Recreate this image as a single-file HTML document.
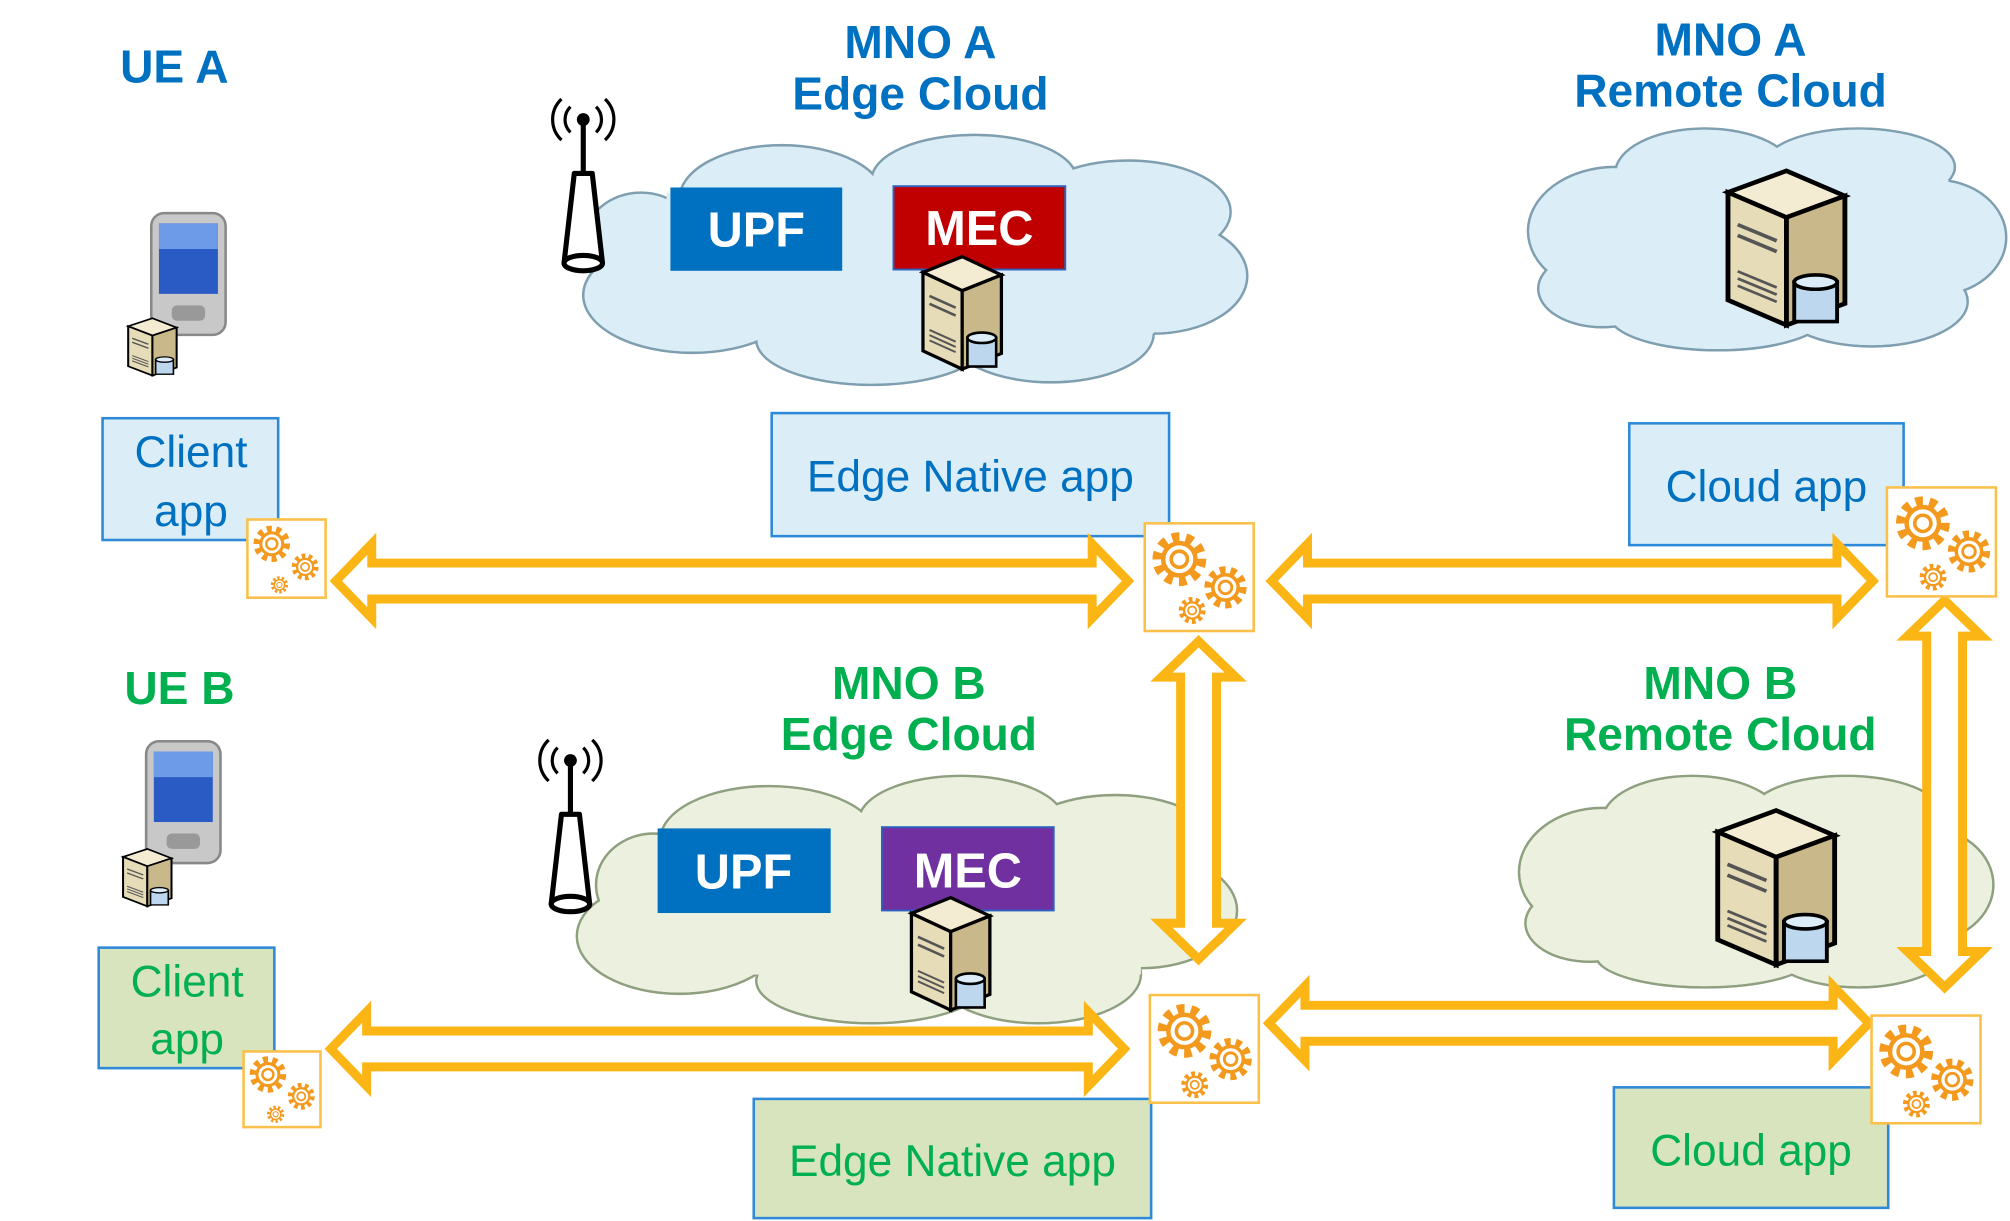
<!DOCTYPE html>
<html><head><meta charset="utf-8"><style>
html,body{margin:0;padding:0;background:#fff;}
svg{display:block;}
text{font-family:"Liberation Sans","DejaVu Sans",sans-serif;}
</style></head><body>
<svg width="2010" height="1221" viewBox="0 0 1568 952" xmlns="http://www.w3.org/2000/svg">
<defs>
<g id="gear">
  <circle cx="0" cy="0" r="12" fill="none" stroke="#f39a1e" stroke-width="6" stroke-dasharray="4 3.5"/>
  <circle cx="0" cy="0" r="9" fill="#fff" stroke="#f39a1e" stroke-width="2.5"/>
  <circle cx="0" cy="0" r="4.5" fill="#fff" stroke="#f39a1e" stroke-width="2"/>
</g>
<g id="server">
  <polygon points="0,12 30,0 60,14 30,26" fill="#f4ecd2" stroke="#000" stroke-width="2.5"/>
  <polygon points="0,12 30,26 30,86 0,72" fill="#e6dcb8" stroke="#000" stroke-width="2.5"/>
  <polygon points="30,26 60,14 60,74 30,86" fill="#c9b98a" stroke="#000" stroke-width="2.5"/>
  <line x1="5" y1="30" x2="25" y2="39" stroke="#555" stroke-width="2"/>
  <line x1="5" y1="36" x2="25" y2="45" stroke="#555" stroke-width="2"/>
  <line x1="5" y1="56" x2="25" y2="65" stroke="#555" stroke-width="1.5"/>
  <line x1="5" y1="60" x2="25" y2="69" stroke="#555" stroke-width="1.5"/>
  <line x1="5" y1="64" x2="25" y2="73" stroke="#555" stroke-width="1.5"/>
  <rect x="34" y="62" width="22" height="22" fill="#bcd7ee" stroke="#000" stroke-width="2"/>
  <ellipse cx="45" cy="62" rx="11" ry="4" fill="#dcecf8" stroke="#000" stroke-width="2"/>
</g>
<g id="antenna">
  <polygon points="18,60 32,60 40,130 10,130" fill="#fff" stroke="#000" stroke-width="4" stroke-linejoin="round"/>
  <ellipse cx="25" cy="130" rx="15" ry="6" fill="#fff" stroke="#000" stroke-width="4"/>
  <line x1="25" y1="20" x2="25" y2="60" stroke="#000" stroke-width="4"/>
  <circle cx="25" cy="18" r="5" fill="#000"/>
  <path d="M15,8 A14,14 0 0 0 15,28 M35,8 A14,14 0 0 1 35,28 M8,2 A22,22 0 0 0 8,34 M42,2 A22,22 0 0 1 42,34" fill="none" stroke="#000" stroke-width="2.5"/>
</g>
<g id="phone">
  <rect x="20" y="0" width="58" height="95" rx="10" fill="#c8c8c8" stroke="#888" stroke-width="2"/>
  <rect x="26" y="8" width="46" height="55" fill="#2a5bc4"/>
  <rect x="26" y="8" width="46" height="20" fill="#6e9be8"/>
  <rect x="36" y="72" width="26" height="12" rx="4" fill="#999"/>
</g>
</defs>

<g font-weight="bold" font-size="36" text-anchor="middle">
<text x="136" y="64" fill="#0070c0">UE A</text>
<text x="718" y="45" fill="#0070c0">MNO A</text>
<text x="718" y="85" fill="#0070c0">Edge Cloud</text>
<text x="1350" y="43" fill="#0070c0">MNO A</text>
<text x="1350" y="83" fill="#0070c0">Remote Cloud</text>
<text x="140" y="549" fill="#00b050">UE B</text>
<text x="709" y="545" fill="#00b050">MNO B</text>
<text x="709" y="585" fill="#00b050">Edge Cloud</text>
<text x="1342" y="545" fill="#00b050">MNO B</text>
<text x="1342" y="585" fill="#00b050">Remote Cloud</text>
</g>

<g stroke="#7f9fb0" stroke-width="2" fill="#dbeef7">
<ellipse cx="540" cy="230" rx="85" ry="45"/>
<ellipse cx="610" cy="155" rx="80" ry="42"/>
<ellipse cx="760" cy="140" rx="80" ry="35"/>
<ellipse cx="880" cy="165" rx="80" ry="40"/>
<ellipse cx="900" cy="215" rx="73" ry="45"/>
<ellipse cx="820" cy="260" rx="80" ry="38"/>
<ellipse cx="680" cy="265" rx="90" ry="35"/>
<ellipse cx="500" cy="190" rx="45" ry="40"/>
</g>
<g fill="#dbeef7">
<ellipse cx="540" cy="230" rx="84" ry="44"/><ellipse cx="610" cy="155" rx="79" ry="41"/><ellipse cx="760" cy="140" rx="79" ry="34"/><ellipse cx="880" cy="165" rx="79" ry="39"/><ellipse cx="900" cy="215" rx="72" ry="44"/><ellipse cx="820" cy="260" rx="79" ry="37"/><ellipse cx="680" cy="265" rx="89" ry="34"/><ellipse cx="500" cy="190" rx="44" ry="39"/><rect x="520" y="150" width="380" height="110"/>
</g>
<g stroke="#7f9fb0" stroke-width="2" fill="#dbeef7">
<ellipse cx="1260" cy="180" rx="68" ry="50"/><ellipse cx="1330" cy="135" rx="70" ry="35"/><ellipse cx="1450" cy="130" rx="75" ry="30"/><ellipse cx="1510" cy="185" rx="55" ry="45"/><ellipse cx="1460" cy="235" rx="75" ry="35"/><ellipse cx="1340" cy="245" rx="85" ry="28"/><ellipse cx="1250" cy="225" rx="50" ry="30"/>
</g>
<g fill="#dbeef7">
<ellipse cx="1260" cy="180" rx="67" ry="49"/><ellipse cx="1330" cy="135" rx="69" ry="34"/><ellipse cx="1450" cy="130" rx="74" ry="29"/><ellipse cx="1510" cy="185" rx="54" ry="44"/><ellipse cx="1460" cy="235" rx="74" ry="34"/><ellipse cx="1340" cy="245" rx="84" ry="27"/><ellipse cx="1250" cy="225" rx="49" ry="29"/><rect x="1250" y="140" width="270" height="100"/>
</g>
<g stroke="#8fa080" stroke-width="2" fill="#ebf1de">
<ellipse cx="530" cy="730" rx="80" ry="45"/><ellipse cx="600" cy="655" rx="85" ry="42"/><ellipse cx="750" cy="640" rx="80" ry="35"/><ellipse cx="870" cy="660" rx="80" ry="40"/><ellipse cx="890" cy="710" rx="75" ry="45"/><ellipse cx="810" cy="760" rx="80" ry="38"/><ellipse cx="680" cy="765" rx="90" ry="33"/><ellipse cx="510" cy="690" rx="45" ry="40"/>
</g>
<g fill="#ebf1de">
<ellipse cx="530" cy="730" rx="79" ry="44"/><ellipse cx="600" cy="655" rx="84" ry="41"/><ellipse cx="750" cy="640" rx="79" ry="34"/><ellipse cx="870" cy="660" rx="79" ry="39"/><ellipse cx="890" cy="710" rx="74" ry="44"/><ellipse cx="810" cy="760" rx="79" ry="37"/><ellipse cx="680" cy="765" rx="89" ry="32"/><ellipse cx="510" cy="690" rx="44" ry="39"/><rect x="520" y="650" width="370" height="110"/>
</g>
<g stroke="#8fa080" stroke-width="2" fill="#ebf1de">
<ellipse cx="1250" cy="680" rx="65" ry="50"/><ellipse cx="1320" cy="640" rx="70" ry="35"/><ellipse cx="1440" cy="635" rx="75" ry="30"/><ellipse cx="1500" cy="690" rx="55" ry="45"/><ellipse cx="1450" cy="735" rx="75" ry="35"/><ellipse cx="1330" cy="745" rx="85" ry="25"/><ellipse cx="1240" cy="720" rx="50" ry="30"/>
</g>
<g fill="#ebf1de">
<ellipse cx="1250" cy="680" rx="64" ry="49"/><ellipse cx="1320" cy="640" rx="69" ry="34"/><ellipse cx="1440" cy="635" rx="74" ry="29"/><ellipse cx="1500" cy="690" rx="54" ry="44"/><ellipse cx="1450" cy="735" rx="74" ry="34"/><ellipse cx="1330" cy="745" rx="84" ry="24"/><ellipse cx="1240" cy="720" rx="49" ry="29"/><rect x="1240" y="645" width="270" height="95"/>
</g>

<rect x="523" y="146" width="134" height="65" fill="#0070c0"/>
<rect x="697" y="145" width="134" height="65" fill="#c00000" stroke="#3060c0" stroke-width="1.5"/>
<rect x="513" y="646" width="135" height="66" fill="#0070c0"/>
<rect x="688" y="645" width="134" height="65" fill="#7030a0" stroke="#3060c0" stroke-width="1.5"/>
<g font-weight="bold" font-size="38" fill="#fff" text-anchor="middle">
<text x="590" y="192">UPF</text><text x="764" y="191">MEC</text>
<text x="580" y="693">UPF</text><text x="755" y="692">MEC</text>
</g>

<use href="#server" transform="translate(720,200) scale(1.02)"/>
<use href="#server" transform="translate(711,700) scale(1.02)"/>
<use href="#server" transform="translate(1348,133) scale(1.52,1.4)"/>
<use href="#server" transform="translate(1340,632) scale(1.52,1.4)"/>
<use href="#phone" transform="translate(98,166)"/>
<use href="#phone" transform="translate(94,578)"/>
<use href="#server" transform="translate(100,248) scale(0.63,0.52)"/>
<use href="#server" transform="translate(96,662) scale(0.63,0.52)"/>
<use href="#antenna" transform="translate(430,75)"/>
<use href="#antenna" transform="translate(420,575)"/>

<g stroke-width="2">
<rect x="80" y="326" width="137" height="95" fill="#dbeef7" stroke="#2e8ad8"/>
<rect x="602" y="322" width="310" height="96" fill="#dbeef7" stroke="#2e8ad8"/>
<rect x="1271" y="330" width="214" height="95" fill="#dbeef7" stroke="#2e8ad8"/>
<rect x="77" y="739" width="137" height="94" fill="#d7e4bd" stroke="#2e8ad8"/>
<rect x="588" y="857" width="310" height="93" fill="#d7e4bd" stroke="#2e8ad8"/>
<rect x="1259" y="848" width="214" height="94" fill="#d7e4bd" stroke="#2e8ad8"/>
</g>
<g font-size="34.5" text-anchor="middle" fill="#0070c0">
<text x="149" y="364">Client</text><text x="149" y="410">app</text>
<text x="757" y="383">Edge Native app</text>
<text x="1378" y="391">Cloud app</text>
</g>
<g font-size="34.5" text-anchor="middle" fill="#00b050">
<text x="146" y="777">Client</text><text x="146" y="822">app</text>
<text x="743" y="917">Edge Native app</text>
<text x="1366" y="909">Cloud app</text>
</g>

<g fill="#fff" stroke="#fbb615" stroke-width="7" stroke-linejoin="miter">
<path d="M262,453 L290,424 L290,439 L852,439 L852,424 L880,453 L852,482 L852,467 L290,467 L290,482 Z"/>
<path d="M992,453 L1020,424 L1020,439 L1433,439 L1433,424 L1461,453 L1433,482 L1433,467 L1020,467 L1020,482 Z"/>
<path d="M258,818 L286,789 L286,804 L849,804 L849,789 L877,818 L849,847 L849,832 L286,832 L286,847 Z"/>
<path d="M990,798 L1018,769 L1018,784 L1430,784 L1430,769 L1458,798 L1430,827 L1430,812 L1018,812 L1018,827 Z"/>
<path d="M935,500 L964,528 L949,528 L949,720 L964,720 L935,748 L906,720 L921,720 L921,528 L906,528 Z"/>
<path d="M1517,468 L1546,496 L1531,496 L1531,742 L1546,742 L1517,770 L1488,742 L1503,742 L1503,496 L1488,496 Z"/>
</g>

<g fill="#fff" stroke="#fbc04a" stroke-width="2">
<rect x="193" y="405" width="61" height="61"/>
<rect x="893" y="408" width="85" height="84"/>
<rect x="1472" y="380" width="85" height="85"/>
<rect x="190" y="820" width="60" height="59"/>
<rect x="897" y="776" width="85" height="84"/>
<rect x="1460" y="792" width="85" height="84"/>
</g>
<g>
<use href="#gear" transform="translate(212,424) scale(0.95)"/><use href="#gear" transform="translate(238,442) scale(0.7)"/><use href="#gear" transform="translate(218,456) scale(0.45)"/>
<use href="#gear" transform="translate(920,436) scale(1.4)"/><use href="#gear" transform="translate(956,458) scale(1.1)"/><use href="#gear" transform="translate(930,476) scale(0.7)"/>
<use href="#gear" transform="translate(1500,408) scale(1.4)"/><use href="#gear" transform="translate(1536,430) scale(1.1)"/><use href="#gear" transform="translate(1508,450) scale(0.7)"/>
<use href="#gear" transform="translate(209,838) scale(0.95)"/><use href="#gear" transform="translate(235,855) scale(0.7)"/><use href="#gear" transform="translate(215,869) scale(0.45)"/>
<use href="#gear" transform="translate(924,804) scale(1.4)"/><use href="#gear" transform="translate(960,826) scale(1.1)"/><use href="#gear" transform="translate(932,846) scale(0.7)"/>
<use href="#gear" transform="translate(1487,820) scale(1.4)"/><use href="#gear" transform="translate(1523,842) scale(1.1)"/><use href="#gear" transform="translate(1495,861) scale(0.7)"/>
</g>
</svg>
</body></html>
